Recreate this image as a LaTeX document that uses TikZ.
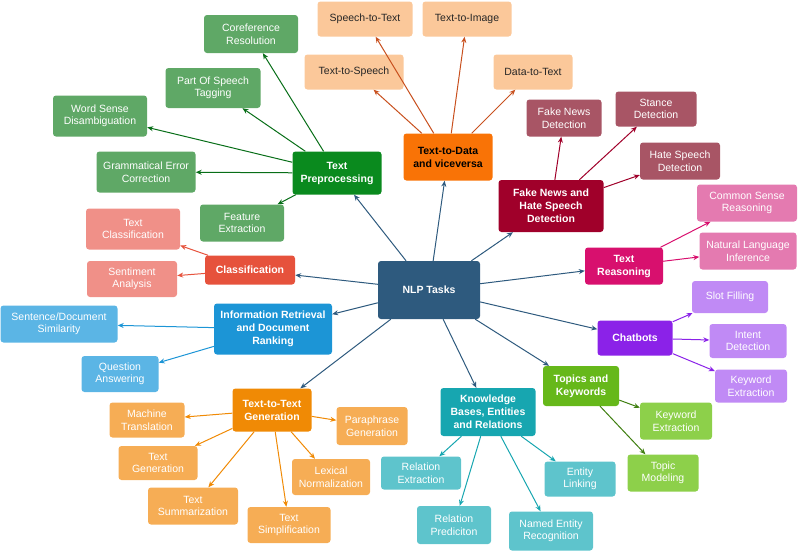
\documentclass[tikz,border=0pt]{standalone}
\usepackage{fontspec}
\setmainfont{Liberation Sans}
\usetikzlibrary{arrows.meta}
\definecolor{hub}{HTML}{2E5A7E}
\definecolor{cTP}{HTML}{0A8A1E}\definecolor{lTP}{HTML}{5FA866}
\definecolor{cTD}{HTML}{F97306}\definecolor{lTD}{HTML}{FBC89A}\definecolor{aTD}{HTML}{C8501E}
\definecolor{cFN}{HTML}{A0002A}\definecolor{lFN}{HTML}{A85565}
\definecolor{cTR}{HTML}{D8106E}\definecolor{lTR}{HTML}{E47AB0}
\definecolor{cCB}{HTML}{8B22E8}\definecolor{lCB}{HTML}{C08AF5}
\definecolor{cTK}{HTML}{66B81A}\definecolor{lTK}{HTML}{8DD04A}\definecolor{aTK}{HTML}{3F7F10}
\definecolor{cKB}{HTML}{17A6B0}\definecolor{lKB}{HTML}{5EC4CC}
\definecolor{cTT}{HTML}{F08A05}\definecolor{lTT}{HTML}{F6AD55}
\definecolor{cIR}{HTML}{1C95D6}\definecolor{lIR}{HTML}{5BB5E5}
\definecolor{cCL}{HTML}{E6523C}\definecolor{lCL}{HTML}{F09088}
\tikzset{
 box/.style={rounded corners=3pt, align=center, inner sep=1pt, text=white, font=\fontsize{10.5}{12.5}\selectfont},
 cat/.style={box, font=\fontsize{10.5}{13}\selectfont\bfseries},
 sz/.style 2 args={minimum width=#1pt, minimum height=#2pt},
 arr/.style={-{Stealth[length=6pt,width=5pt]}, line width=1pt, draw=#1}
}
\begin{document}
\begin{tikzpicture}[x=1pt,y=-1pt]
\useasboundingbox (0,0) rectangle (800,555);
\node[cat, fill=hub, sz={102}{58}] (hubn) at (429,290) {NLP Tasks};
\node[cat, fill=cTP, sz={89}{43}] (TP) at (337,173) {Text\\Preprocessing};
\node[cat, fill=cTD, sz={89}{47}, text=black] (TD) at (448,157) {Text-to-Data\\and viceversa};
\node[cat, fill=cFN, sz={105}{52}] (FN) at (551,206) {Fake News and\\Hate Speech\\Detection};
\node[cat, fill=cTR, sz={78}{37}] (TR) at (624,266) {Text\\Reasoning};
\node[cat, fill=cCB, sz={75}{35}] (CB) at (635,338) {Chatbots};
\node[cat, fill=cTK, sz={76}{40}] (TK) at (581,386) {Topics and\\Keywords};
\node[cat, fill=cKB, sz={95}{48}] (KB) at (488,412) {Knowledge\\Bases, Entities\\and Relations};
\node[cat, fill=cTT, sz={79}{43}] (TT) at (272,410) {Text-to-Text\\Generation};
\node[cat, fill=cIR, sz={118}{51}] (IR) at (273,329) {Information Retrieval\\and Document\\Ranking};
\node[cat, fill=cCL, sz={90}{29}] (CL) at (250,270) {Classification};
% leaves
\node[box, fill=lTP, sz={94}{38}] (tp1) at (251,34) {Coreference\\Resolution};
\node[box, fill=lTP, sz={95}{40}] (tp2) at (213,88) {Part Of Speech\\Tagging};
\node[box, fill=lTP, sz={94}{41}] (tp3) at (100,116) {Word Sense\\Disambiguation};
\node[box, fill=lTP, sz={99}{41}] (tp4) at (146,172) {Grammatical Error\\Correction};
\node[box, fill=lTP, sz={84}{37}] (tp5) at (242,223) {Feature\\Extraction};
\node[box, fill=lTD, text=black!85, sz={95}{35}] (td1) at (365,19) {Speech-to-Text};
\node[box, fill=lTD, text=black!85, sz={89}{35}] (td2) at (467,19) {Text-to-Image};
\node[box, fill=lTD, text=black!85, sz={99}{35}] (td3) at (354,72) {Text-to-Speech};
\node[box, fill=lTD, text=black!85, sz={79}{35}] (td4) at (533,72) {Data-to-Text};
\node[box, fill=lFN, sz={75}{37}] (fn1) at (564,118) {Fake News\\Detection};
\node[box, fill=lFN, sz={81}{35}] (fn2) at (656,109) {Stance\\Detection};
\node[box, fill=lFN, sz={80}{37}] (fn3) at (680,161) {Hate Speech\\Detection};
\node[box, fill=lTR, sz={100}{37}] (tr1) at (747,203) {Common Sense\\Reasoning};
\node[box, fill=lTR, sz={97}{37}] (tr2) at (748,251) {Natural Language\\Inference};
\node[box, fill=lCB, sz={76}{32}] (cb1) at (730,297) {Slot Filling};
\node[box, fill=lCB, sz={77}{34}] (cb2) at (748,341) {Intent\\Detection};
\node[box, fill=lCB, sz={72}{33}] (cb3) at (751,386) {Keyword\\Extraction};
\node[box, fill=lTK, sz={72}{37}] (tk1) at (676,421) {Keyword\\Extraction};
\node[box, fill=lTK, sz={71}{37}] (tk2) at (663,473) {Topic\\Modeling};
\node[box, fill=lKB, sz={80}{33}] (kb1) at (421,473) {Relation\\Extraction};
\node[box, fill=lKB, sz={71}{35}] (kb2) at (580,479) {Entity\\Linking};
\node[box, fill=lKB, sz={74}{38}] (kb3) at (454,525) {Relation\\Prediciton};
\node[box, fill=lKB, sz={84}{39}] (kb4) at (551,531) {Named Entity\\Recognition};
\node[box, fill=lTT, sz={75}{35}] (tt1) at (147,420) {Machine\\Translation};
\node[box, fill=lTT, sz={71}{38}] (tt2) at (372,426) {Paraphrase\\Generation};
\node[box, fill=lTT, sz={79}{34}] (tt3) at (158,463) {Text\\Generation};
\node[box, fill=lTT, sz={78}{36}] (tt4) at (331,477) {Lexical\\Normalization};
\node[box, fill=lTT, sz={90}{37}] (tt5) at (193,506) {Text\\Summarization};
\node[box, fill=lTT, sz={83}{36}] (tt6) at (289,525) {Text\\Simplification};
\node[box, fill=lIR, sz={117}{37}] (ir1) at (59,324) {Sentence/Document\\Similarity};
\node[box, fill=lIR, sz={77}{36}] (ir2) at (120,374) {Question\\Answering};
\node[box, fill=lCL, sz={94}{41}] (cl1) at (133,229) {Text\\Classification};
\node[box, fill=lCL, sz={90}{36}] (cl2) at (132,279) {Sentiment\\Analysis};
% hub arrows
\foreach \t in {TP,TD,FN,TR,CB,TK,KB,TT,IR,CL} \draw[arr=hub] (hubn) -- (\t);
\foreach \t in {tp1,tp2,tp3,tp4,tp5} \draw[arr=cTP!80!black] (TP) -- (\t);
\foreach \t in {td1,td2,td3,td4} \draw[arr=aTD] (TD) -- (\t);
\foreach \t in {fn1,fn2,fn3} \draw[arr=cFN] (FN) -- (\t);
\foreach \t in {tr1,tr2} \draw[arr=cTR] (TR) -- (\t);
\foreach \t in {cb1,cb2,cb3} \draw[arr=cCB] (CB) -- (\t);
\foreach \t in {tk1,tk2} \draw[arr=aTK] (TK) -- (\t);
\foreach \t in {kb1,kb2,kb3,kb4} \draw[arr=cKB] (KB) -- (\t);
\foreach \t in {tt1,tt2,tt3,tt4,tt5,tt6} \draw[arr=cTT] (TT) -- (\t);
\foreach \t in {ir1,ir2} \draw[arr=cIR] (IR) -- (\t);
\foreach \t in {cl1,cl2} \draw[arr=cCL] (CL) -- (\t);
\end{tikzpicture}
\end{document}
